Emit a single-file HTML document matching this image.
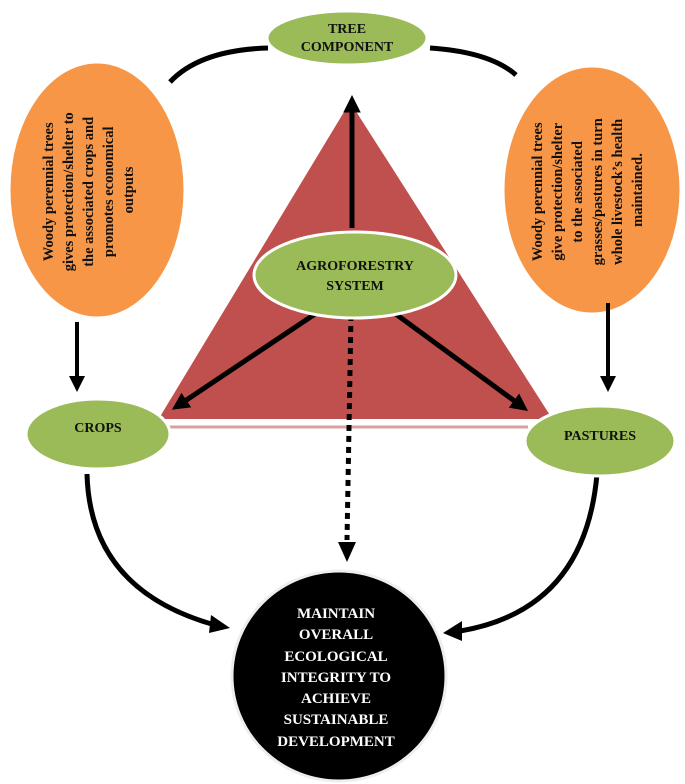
<!DOCTYPE html>
<html><head><meta charset="utf-8"><style>
html,body{margin:0;padding:0;background:#fff;}
svg{display:block;}
text{font-family:"Liberation Serif",serif;font-weight:bold;}
</style></head><body>
<svg width="685" height="784" viewBox="0 0 685 784" xmlns="http://www.w3.org/2000/svg">
<defs>
<marker id="ah" markerWidth="4" markerHeight="4" refX="3" refY="2" orient="auto" markerUnits="strokeWidth">
<path d="M0,0 L4,2 L0,4 Z" fill="#000"/></marker>
<marker id="ah2" markerWidth="3.5" markerHeight="3.5" refX="2.5" refY="1.75" orient="auto" markerUnits="strokeWidth">
<path d="M0,0 L3.5,1.75 L0,3.5 Z" fill="#000"/></marker>
</defs>
<!-- top arcs -->
<path d="M268,48 Q200,50 170,82" fill="none" stroke="#000" stroke-width="5"/>
<path d="M430,48 Q490,52 516,75" fill="none" stroke="#000" stroke-width="5"/>
<!-- triangle -->
<line x1="168" y1="427" x2="528" y2="427" stroke="#d9a0a0" stroke-width="3"/>
<polygon points="350,102 158,420 553,420" fill="#c0504d"/>
<line x1="160" y1="420" x2="552" y2="420" stroke="#fff" stroke-width="2"/>
<!-- orange ellipses -->
<ellipse cx="97" cy="190" rx="88" ry="128" fill="#f79646" stroke="#fff" stroke-width="3"/>
<ellipse cx="592" cy="190" rx="89" ry="124" fill="#f79646" stroke="#fff" stroke-width="3"/>
<g font-size="14.5" text-anchor="middle" fill="#111">
<text transform="translate(97,190) rotate(-90)">
<tspan x="0" y="-44">Woody perennial trees</tspan>
<tspan x="0" y="-24">gives protection/shelter to</tspan>
<tspan x="0" y="-4">the associated crops and</tspan>
<tspan x="0" y="16">promotes economical</tspan>
<tspan x="0" y="36">outputs</tspan></text>
<text transform="translate(592,190) rotate(-90)">
<tspan x="0" y="-50">Woody perennial trees</tspan>
<tspan x="0" y="-30">give protection/shelter</tspan>
<tspan x="0" y="-10">to the associated</tspan>
<tspan x="0" y="10">grasses/pastures in turn</tspan>
<tspan x="0" y="30">whole livestock’s health</tspan>
<tspan x="0" y="50">maintained.</tspan></text>
</g>
<!-- vertical arrows -->
<line x1="77" y1="322" x2="77" y2="388" stroke="#000" stroke-width="4" marker-end="url(#ah)"/>
<line x1="608" y1="303" x2="608" y2="388" stroke="#000" stroke-width="4" marker-end="url(#ah)"/>
<!-- internal arrows -->
<line x1="352" y1="228" x2="352" y2="100" stroke="#000" stroke-width="5" marker-end="url(#ah2)"/>
<line x1="318" y1="312" x2="176" y2="407" stroke="#000" stroke-width="5" marker-end="url(#ah2)"/>
<line x1="393" y1="312" x2="524" y2="408" stroke="#000" stroke-width="5" marker-end="url(#ah2)"/>
<line x1="351" y1="315" x2="347" y2="540" stroke="#000" stroke-width="5" stroke-dasharray="6,5"/>
<path d="M338,542 L356,542 L347,562 Z" fill="#000"/>
<!-- bottom curves -->
<path d="M87,474 Q90,590 215,625" fill="none" stroke="#000" stroke-width="5"/>
<path d="M211,615 L230,628 L209,633 Z" fill="#000"/>
<path d="M597,474 Q585,610 460,631" fill="none" stroke="#000" stroke-width="5"/>
<path d="M462,621 L443,633 L462,641 Z" fill="#000"/>
<!-- green ellipses -->
<ellipse cx="347" cy="38" rx="80" ry="27" fill="#9bbb59" stroke="#fff" stroke-width="3"/>
<ellipse cx="355" cy="275" rx="101" ry="43" fill="#9bbb59" stroke="#fff" stroke-width="3"/>
<ellipse cx="98" cy="434" rx="72" ry="35" fill="#9bbb59" stroke="#fff" stroke-width="3"/>
<ellipse cx="600" cy="441" rx="75" ry="35" fill="#9bbb59" stroke="#fff" stroke-width="3"/>
<g font-size="14" text-anchor="middle" fill="#111">
<text x="347" y="33">TREE</text><text x="347" y="51">COMPONENT</text>
<text x="355" y="270">AGROFORESTRY</text><text x="355" y="290">SYSTEM</text>
<text x="98" y="432">CROPS</text>
<text x="600" y="440">PASTURES</text>
</g>
<!-- black ellipse -->
<ellipse cx="339" cy="676" rx="107" ry="105" fill="#000" stroke="#eee" stroke-width="3"/>
<g font-size="15" text-anchor="middle" fill="#fff">
<text x="336" y="618">MAINTAIN</text>
<text x="336" y="639">OVERALL</text>
<text x="336" y="661">ECOLOGICAL</text>
<text x="336" y="682">INTEGRITY TO</text>
<text x="336" y="703">ACHIEVE</text>
<text x="336" y="724">SUSTAINABLE</text>
<text x="336" y="746">DEVELOPMENT</text>
</g>
</svg>
</body></html>
